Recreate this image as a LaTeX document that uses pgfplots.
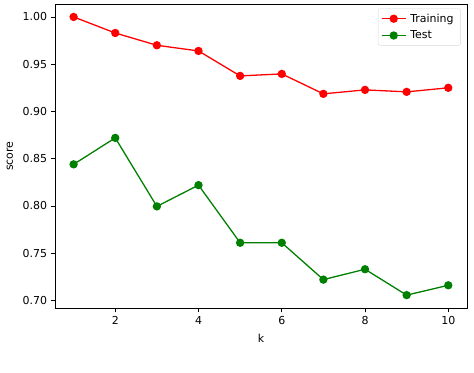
\documentclass[border=0pt]{standalone}
\usepackage{pgfplots}
\pgfplotsset{compat=1.18}
\usepackage{fontspec}
\setmainfont{DejaVu Sans}
\definecolor{mplgreen}{rgb}{0,0.5,0}
\begin{document}
\fontsize{11bp}{13bp}\selectfont
\begin{tikzpicture}
\begin{axis}[
  scale only axis,
  width=413bp, height=305bp,
  xmin=0.55, xmax=10.45,
  ymin=0.6916, ymax=1.0137,
  xtick={2,4,6,8,10},
  ytick={0.70,0.75,0.80,0.85,0.90,0.95,1.00},
  yticklabel style={/pgf/number format/fixed,/pgf/number format/fixed zerofill,/pgf/number format/precision=2},
  /pgf/number format/assume math mode=true,
  tick align=outside,
  major tick length=4bp,
  xtick pos=bottom, ytick pos=left,
  tick style={black, line width=0.7pt},
  axis line style={black, line width=0.7pt},
  xlabel={k}, ylabel={score},
  xlabel style={yshift=-2bp},
  ylabel style={yshift=2bp},
  ticklabel style={font=\fontsize{11bp}{13bp}\selectfont},
  label style={font=\fontsize{11bp}{13bp}\selectfont},
  legend style={at={(0.985,0.985)}, anchor=north east, draw=black!15, rounded corners=2bp, font=\fontsize{11bp}{13bp}\selectfont, row sep=3bp, inner xsep=3bp, inner ysep=3bp, nodes={inner xsep=4bp}},
  legend cell align=left,
  legend image code/.code={\draw[#1] (0bp,0bp) -- (24bp,0bp); \draw[#1, mark repeat=2, mark phase=2] plot coordinates {(0bp,0bp) (12bp,0bp) (24bp,0bp)};},
]
\addplot[red, line width=1.3pt, mark=*, mark size=3.5bp, mark options={solid}] coordinates {
(1,1.000) (2,0.983) (3,0.970) (4,0.964) (5,0.9376) (6,0.9397) (7,0.9186) (8,0.9228) (9,0.9207) (10,0.925)
};
\addlegendentry{Training}
\addplot[mplgreen, line width=1.3pt, mark=*, mark size=3.5bp, mark options={solid}] coordinates {
(1,0.844) (2,0.872) (3,0.7995) (4,0.822) (5,0.761) (6,0.761) (7,0.722) (8,0.733) (9,0.7056) (10,0.716)
};
\addlegendentry{Test}
\end{axis}
\pgfresetboundingbox
\useasboundingbox ([shift={(-55bp,-64bp)}]current axis.south west) rectangle ([shift={(7bp,4bp)}]current axis.north east);
\end{tikzpicture}
\end{document}
